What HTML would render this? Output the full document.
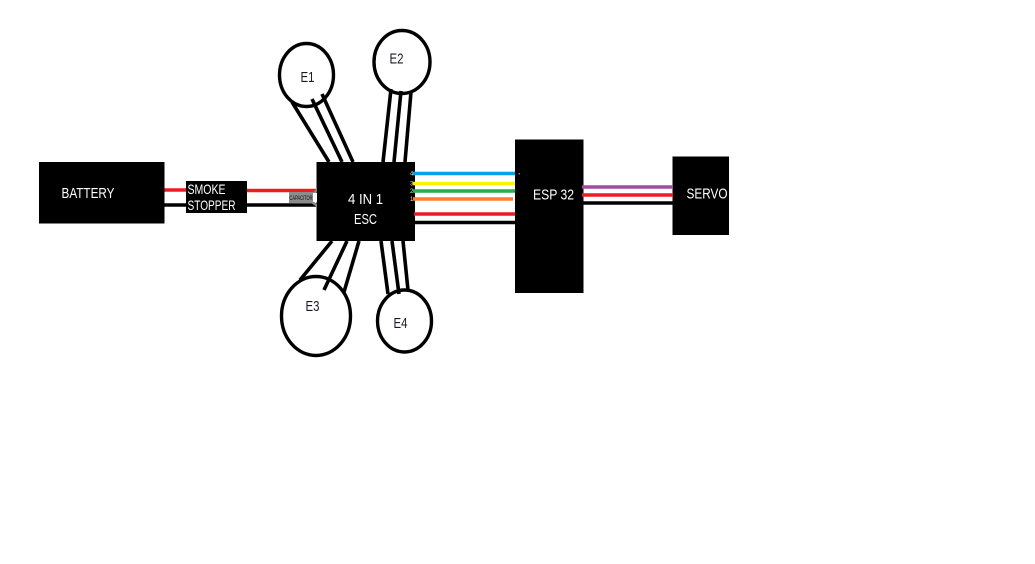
<!DOCTYPE html>
<html>
<head>
<meta charset="utf-8">
<style>
html,body{margin:0;padding:0;background:#fff;width:1035px;height:564px;overflow:hidden}
svg{display:block}
text{font-family:"Liberation Sans",sans-serif}
</style>
</head>
<body>
<svg width="1035" height="564" viewBox="0 0 1035 564" xmlns="http://www.w3.org/2000/svg">
<rect width="1035" height="564" fill="#fff"/>

<!-- wires left -->
<g stroke-width="3.6" fill="none">
<line x1="163" y1="190" x2="187" y2="190" stroke="#ed1c24"/>
<line x1="163" y1="205" x2="187" y2="205" stroke="#000"/>
<line x1="246" y1="190.5" x2="317" y2="190.5" stroke="#ed1c24"/>
<line x1="246" y1="205" x2="317" y2="205" stroke="#000"/>
</g>

<!-- motor wires -->
<g stroke="#000" stroke-width="3.6" fill="none">
<line x1="292" y1="102" x2="329" y2="162"/>
<line x1="312" y1="99" x2="342" y2="162"/>
<line x1="322" y1="94" x2="353" y2="162"/>
<line x1="391" y1="89" x2="383" y2="162"/>
<line x1="401" y1="91" x2="394" y2="162"/>
<line x1="411" y1="92" x2="405" y2="162"/>
<line x1="332" y1="241" x2="300" y2="280"/>
<line x1="347" y1="241" x2="324" y2="290"/>
<line x1="359" y1="241" x2="344" y2="292"/>
<line x1="381" y1="241" x2="388" y2="294"/>
<line x1="392" y1="241" x2="399" y2="294"/>
<line x1="403" y1="241" x2="408" y2="290"/>
</g>

<!-- motors -->
<g stroke="#000" stroke-width="3.400" fill="none">
<ellipse cx="306.500" cy="75" rx="27" ry="31.500"/>
<ellipse cx="402" cy="62" rx="28" ry="31.500"/>
<ellipse cx="316" cy="316" rx="34.500" ry="39.500"/>
<ellipse cx="404.500" cy="321" rx="27" ry="31"/>
</g>

<!-- blocks -->
<g fill="#000">
<rect x="39" y="162" width="125.500" height="61.500"/>
<rect x="186" y="181" width="61" height="32"/>
<rect x="316.500" y="162" width="98.500" height="79"/>
<rect x="515" y="139.500" width="68.500" height="153.500"/>
<rect x="672.500" y="156.500" width="56.500" height="78.500"/>
</g>

<!-- capacitor -->
<polygon points="311,195 317,188 317,191 314,197" fill="#8a8a8a"/>
<polygon points="311,200 317,204 317,207 311,203" fill="#8a8a8a"/>
<rect x="313" y="193" width="4" height="9" fill="#fff"/>
<rect x="289" y="192" width="24" height="11" fill="#8c8c8c"/>
<text x="289.500" y="200" font-size="6.500" fill="#111" textLength="23" lengthAdjust="spacingAndGlyphs">CAPACITOR</text>

<!-- signal wires -->
<g stroke-width="3.6" fill="none">
<line x1="413" y1="173.500" x2="515" y2="173.500" stroke="#00a2e8"/>
<line x1="413" y1="183.500" x2="515" y2="183.500" stroke="#fff200"/>
<line x1="413" y1="191" x2="515" y2="191" stroke="#22b14c"/>
<line x1="413" y1="199" x2="513" y2="199" stroke="#ff7f27"/>
<line x1="414" y1="214" x2="515" y2="214" stroke="#ed1c24"/>
<line x1="415" y1="222.500" x2="515" y2="222.500" stroke="#000"/>
<line x1="582" y1="187" x2="673" y2="187" stroke="#a349a4"/>
<line x1="582" y1="195" x2="673" y2="195" stroke="#ed1c24"/>
<line x1="583" y1="203" x2="673" y2="203" stroke="#000"/>
</g>
<rect x="518.500" y="173" width="1.500" height="1.500" fill="#00a2e8"/>

<!-- pin labels -->
<g font-size="6" fill="#dfe6d8">
<text x="410" y="175.500">4</text>
<text x="410" y="185.500">3</text>
<text x="410" y="193">2</text>
<text x="410" y="201">1</text>
</g>

<!-- block labels -->
<g fill="#fff" font-size="15">
<text x="61.500" y="198" textLength="53" lengthAdjust="spacingAndGlyphs">BATTERY</text>
<text x="187.500" y="194" font-size="14" textLength="38" lengthAdjust="spacingAndGlyphs">SMOKE</text>
<text x="187.500" y="210" font-size="14" textLength="48" lengthAdjust="spacingAndGlyphs">STOPPER</text>
<text x="348" y="204" textLength="35" lengthAdjust="spacingAndGlyphs">4 IN 1</text>
<text x="354" y="224" textLength="23" lengthAdjust="spacingAndGlyphs">ESC</text>
<text x="533" y="199.500" textLength="41" lengthAdjust="spacingAndGlyphs">ESP 32</text>
<text x="686.500" y="198.500" textLength="41" lengthAdjust="spacingAndGlyphs">SERVO</text>
</g>
<g fill="#1a1a2a" font-size="15">
<text x="300.500" y="82" textLength="14" lengthAdjust="spacingAndGlyphs">E1</text>
<text x="389.500" y="63.500" textLength="14" lengthAdjust="spacingAndGlyphs">E2</text>
<text x="305.500" y="311" textLength="14" lengthAdjust="spacingAndGlyphs">E3</text>
<text x="393.500" y="328" textLength="14" lengthAdjust="spacingAndGlyphs">E4</text>
</g>
</svg>
</body>
</html>
